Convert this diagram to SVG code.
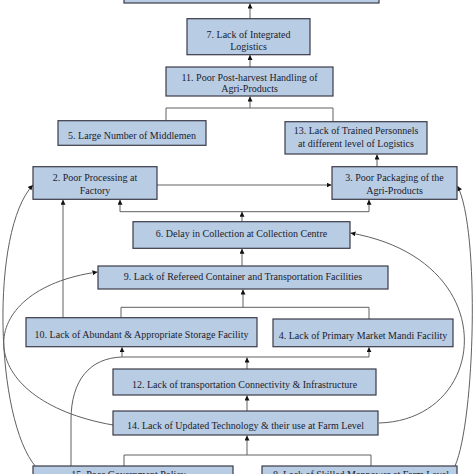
<svg xmlns="http://www.w3.org/2000/svg" width="474" height="474" viewBox="0 0 474 474">
<style>
.box{fill:#b8cce4;stroke:#3a3a48;stroke-width:1.2}
.t{font-family:"Liberation Serif","Times New Roman",serif;font-size:10px;fill:#1c1c2c;text-anchor:middle}
.c{fill:none;stroke:#606060;stroke-width:1}
.a{marker-end:url(#ah)}
</style>
<defs>
<marker id="ah" markerUnits="userSpaceOnUse" markerWidth="6" markerHeight="6" refX="5" refY="2.5" orient="auto">
<path d="M0,0 L5,2.5 L0,5 z" fill="#111"/>
</marker>
</defs>
<rect width="474" height="474" fill="#fff"/>
<g id="connectors">
<path class="c a" d="M250,18.7 V3.5"/>
<path class="c a" d="M250,67 V55"/>
<path class="c a" d="M250,108 V96.5"/>
<path class="c" d="M166,120.7 V108 H333 V121.7"/>
<path class="c a" d="M377,166.7 V154.5"/>
<path class="c a" d="M157,185 H331.5"/>
<path class="c" d="M120,211.7 H369"/>
<path class="c a" d="M120,211.7 V199.8"/>
<path class="c a" d="M369,211.7 V199.8"/>
<path class="c a" d="M242,221.7 V211.7"/>
<path class="c a" d="M63,317.7 V199.8"/>
<path class="c a" d="M242,266 V248.8"/>
<path class="c" d="M121,317.7 V307.3 H369 V319"/>
<path class="c a" d="M243,307.3 V289.5"/>
<path class="c" d="M122,357 H369"/>
<path class="c a" d="M122,357 V347.2"/>
<path class="c a" d="M369,357 V347.2"/>
<path class="c a" d="M247,369 V357.5"/>
<path class="c a" d="M247,411 V395.5"/>
<path class="c" d="M124,466 V455 H371 V466"/>
<path class="c a" d="M247,455 V435.5"/>
<path class="c a" d="M36,467 C -5,420 -10,230 33,185"/>
<path class="c a" d="M113,425 C -30,400 -30,290 97.5,272"/>
<path class="c" d="M71,466 L71,420 C71,380 90,358 122,357"/>
<path class="c a" d="M379,423 C 490,420 505,260 350.5,233"/>
<path class="c a" d="M455,466 C 475,420 480,230 457.5,186"/>
</g>
<g id="n1"><rect class="box" x="124" y="-30" width="255" height="33"/></g>
<g id="n7"><rect class="box" x="187" y="18.7" width="123" height="36"/>
<text class="t" x="248.5" y="37.5">7. Lack of Integrated</text><text class="t" x="248.5" y="49.5">Logistics</text></g>
<g id="n11"><rect class="box" x="166" y="67" width="167" height="29"/>
<text class="t" x="249.5" y="80.5">11. Poor Post-harvest Handling of</text><text class="t" x="249.5" y="92">Agri-Products</text></g>
<g id="n5"><rect class="box" x="58" y="120.7" width="148" height="24.6"/>
<text class="t" x="132" y="139">5. Large Number of Middlemen</text></g>
<g id="n13"><rect class="box" x="285" y="121.7" width="142" height="32.3"/>
<text class="t" x="356" y="134">13. Lack of Trained Personnels</text><text class="t" x="356" y="147">at different level of Logistics</text></g>
<g id="n2"><rect class="box" x="33" y="166.7" width="124" height="32.6"/>
<text class="t" x="95" y="181">2. Poor Processing at</text><text class="t" x="95" y="193.5">Factory</text></g>
<g id="n3"><rect class="box" x="332" y="166.7" width="125" height="32.6"/>
<text class="t" x="394.5" y="181">3. Poor Packaging of the</text><text class="t" x="394.5" y="193.5">Agri-Products</text></g>
<g id="n6"><rect class="box" x="133" y="221.7" width="217" height="26.6"/>
<text class="t" x="241.5" y="236.5">6. Delay in Collection at Collection Centre</text></g>
<g id="n9"><rect class="box" x="98" y="266" width="290" height="23"/>
<text class="t" x="243" y="280">9. Lack of Refereed Container and Transportation Facilities</text></g>
<g id="n10"><rect class="box" x="26" y="317.7" width="231" height="29"/>
<text class="t" x="141.5" y="337.5">10. Lack of Abundant &amp; Appropriate Storage Facility</text></g>
<g id="n4"><rect class="box" x="273" y="319" width="180" height="27.7"/>
<text class="t" x="363" y="338.5">4. Lack of Primary Market Mandi Facility</text></g>
<g id="n12"><rect class="box" x="113" y="369" width="263" height="26"/>
<text class="t" x="244.5" y="387.5">12. Lack of transportation Connectivity &amp; Infrastructure</text></g>
<g id="n14"><rect class="box" x="113" y="411" width="265" height="24"/>
<text class="t" x="245.5" y="428.5">14. Lack of Updated Technology &amp; their use at Farm Level</text></g>
<g id="n15"><rect class="box" x="33" y="466" width="200" height="30"/>
<text class="t" x="128.5" y="478">15. Poor Government Policy</text></g>
<g id="n8"><rect class="box" x="262" y="466" width="195" height="30"/>
<text class="t" x="361" y="478">8. Lack of Skilled Manpower at Farm Level</text></g>
</svg>
